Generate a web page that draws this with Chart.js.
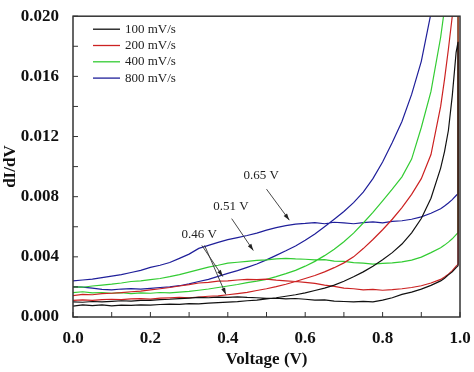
<!DOCTYPE html>
<html>
<head>
<meta charset="utf-8">
<script src="https://cdn.jsdelivr.net/npm/chart.js@4"></script>
<style>
  body { margin: 0; background: #fff; }
  canvas { display: block; }
</style>
</head>
<body>
<canvas id="dIdV" width="474" height="372"></canvas>
<script>
// voltage grid (V)
const voltage = [
  0, 0.025, 0.05, 0.075, 0.1, 0.125, 0.15, 0.175, 0.2, 0.225,
  0.25, 0.275, 0.3, 0.325, 0.35, 0.375, 0.4, 0.425, 0.45, 0.475,
  0.5, 0.525, 0.55, 0.575, 0.6, 0.625, 0.65, 0.675, 0.7, 0.725,
  0.75, 0.775, 0.8, 0.825, 0.85, 0.875, 0.9, 0.925, 0.95, 0.96,
  0.97, 0.98, 0.99, 0.995
];

// 100 mV/s
const blackFwd = [
  0.00072, 0.00080, 0.00076, 0.00080, 0.00074, 0.00079, 0.00077, 0.00081, 0.00079, 0.00083,
  0.00086, 0.00084, 0.00089, 0.00087, 0.00092, 0.00096, 0.00099, 0.00102, 0.00108, 0.00112,
  0.00120, 0.00128, 0.00138, 0.00148, 0.00160, 0.00176, 0.00192, 0.00212, 0.00238, 0.00268,
  0.00300, 0.00338, 0.00380, 0.00428, 0.00485, 0.00560, 0.00655, 0.00790, 0.00990, 0.01100,
  0.01240, 0.01470, 0.01760, 0.01830
];
const blackRev = [
  0.00100, 0.00098, 0.00103, 0.00100, 0.00104, 0.00108, 0.00106, 0.00111, 0.00110, 0.00116,
  0.00118, 0.00122, 0.00126, 0.00130, 0.00128, 0.00132, 0.00131, 0.00134, 0.00130, 0.00128,
  0.00124, 0.00126, 0.00121, 0.00123, 0.00118, 0.00112, 0.00114, 0.00106, 0.00103, 0.00100,
  0.00104, 0.00101, 0.00112, 0.00128, 0.00150, 0.00165, 0.00185, 0.00210, 0.00240, 0.00258,
  0.00280, 0.00300, 0.00328, 0.00340
];

// 200 mV/s
const redFwd = [
  0.00110, 0.00114, 0.00110, 0.00116, 0.00118, 0.00115, 0.00120, 0.00122, 0.00119, 0.00125,
  0.00127, 0.00130, 0.00128, 0.00133, 0.00138, 0.00141, 0.00148, 0.00156, 0.00164, 0.00176,
  0.00188, 0.00202, 0.00218, 0.00236, 0.00256, 0.00276, 0.00300, 0.00328, 0.00360, 0.00400,
  0.00455, 0.00515, 0.00580, 0.00650, 0.00728, 0.00815, 0.00920, 0.01080, 0.01400, 0.01580,
  0.01780, 0.02000, 0.02400, 0.02600
];
const redRev = [
  0.00142, 0.00150, 0.00148, 0.00155, 0.00158, 0.00162, 0.00168, 0.00172, 0.00180, 0.00188,
  0.00196, 0.00206, 0.00215, 0.00226, 0.00230, 0.00238, 0.00240, 0.00246, 0.00250, 0.00248,
  0.00252, 0.00245, 0.00240, 0.00236, 0.00230, 0.00224, 0.00212, 0.00204, 0.00192, 0.00188,
  0.00180, 0.00184, 0.00178, 0.00182, 0.00188, 0.00196, 0.00208, 0.00226, 0.00250, 0.00266,
  0.00285, 0.00308, 0.00338, 0.00350
];

// 400 mV/s
const greenFwd = [
  0.00162, 0.00168, 0.00160, 0.00163, 0.00158, 0.00162, 0.00155, 0.00160, 0.00158, 0.00163,
  0.00160, 0.00166, 0.00170, 0.00178, 0.00186, 0.00196, 0.00206, 0.00216, 0.00228, 0.00238,
  0.00250, 0.00268, 0.00288, 0.00310, 0.00338, 0.00370, 0.00408, 0.00450, 0.00500, 0.00558,
  0.00625, 0.00695, 0.00772, 0.00850, 0.00932, 0.01050, 0.01260, 0.01500, 0.01860, 0.02050,
  0.02300, 0.02600, 0.02900, 0.03000
];
const greenRev = [
  0.00200, 0.00198, 0.00206, 0.00212, 0.00218, 0.00226, 0.00236, 0.00240, 0.00248, 0.00256,
  0.00268, 0.00282, 0.00298, 0.00315, 0.00332, 0.00344, 0.00358, 0.00364, 0.00370, 0.00376,
  0.00380, 0.00386, 0.00390, 0.00386, 0.00384, 0.00380, 0.00382, 0.00372, 0.00370, 0.00362,
  0.00358, 0.00352, 0.00356, 0.00360, 0.00366, 0.00378, 0.00398, 0.00428, 0.00460, 0.00478,
  0.00498, 0.00520, 0.00548, 0.00560
];

// 800 mV/s
const blueFwd = [
  0.00200, 0.00198, 0.00192, 0.00184, 0.00180, 0.00186, 0.00188, 0.00185, 0.00190, 0.00196,
  0.00200, 0.00208, 0.00220, 0.00236, 0.00250, 0.00270, 0.00290, 0.00308, 0.00330, 0.00352,
  0.00380, 0.00410, 0.00440, 0.00472, 0.00510, 0.00552, 0.00600, 0.00650, 0.00702, 0.00760,
  0.00830, 0.00920, 0.01030, 0.01160, 0.01300, 0.01480, 0.01700, 0.02020, 0.02400, 0.02600,
  0.02800, 0.03000, 0.03200, 0.03300
];
const blueRev = [
  0.00240, 0.00246, 0.00252, 0.00262, 0.00272, 0.00282, 0.00296, 0.00310, 0.00330, 0.00344,
  0.00362, 0.00390, 0.00418, 0.00456, 0.00476, 0.00496, 0.00514, 0.00528, 0.00542, 0.00558,
  0.00578, 0.00594, 0.00608, 0.00618, 0.00622, 0.00628, 0.00620, 0.00630, 0.00626, 0.00620,
  0.00628, 0.00632, 0.00626, 0.00636, 0.00640, 0.00650, 0.00666, 0.00690, 0.00720, 0.00738,
  0.00758, 0.00780, 0.00808, 0.00820
];

const seriesLabels = ["100 mV/s", "200 mV/s", "400 mV/s", "800 mV/s"];
const seriesColors = ["#111111", "#cc2222", "#33cc33", "#1f1f9a"];
const xTicks = [0, 0.2, 0.4, 0.6, 0.8, 1.0];
const yTicks = [0, 0.004, 0.008, 0.012, 0.016, 0.02];

// arrow notes (data coordinates)
const notes = [
  { text: "0.65 V", at: [0.486, 0.0094], arrows: [[[0.500, 0.0085], [0.559, 0.00644]]] },
  { text: "0.51 V", at: [0.408, 0.00737], arrows: [[[0.410, 0.00654], [0.466, 0.00442]]] },
  { text: "0.46 V", at: [0.326, 0.00546], arrows: [
      [[0.333, 0.00476], [0.387, 0.00269]],
      [[0.340, 0.00476], [0.395, 0.00150]]
    ] }
];

// forward sweep, jump at the vertex, then back to 0 V
function loop(fwd, rev) {
  const pts = voltage.map((v, i) => ({ x: v, y: fwd[i] }));
  for (let i = voltage.length - 1; i >= 0; i--) pts.push({ x: voltage[i], y: rev[i] });
  return pts;
}

const loops = [
  loop(blackFwd, blackRev),
  loop(redFwd, redRev),
  loop(greenFwd, greenRev),
  loop(blueFwd, blueRev)
];

const serif = "'Liberation Serif', 'Times New Roman', serif";

// frame, inward ticks, legend, arrows
const decorations = {
  id: "decorations",
  afterDatasetsDraw(chart) {
    const { ctx, chartArea: a, scales: { x, y } } = chart;
    ctx.save();
    ctx.strokeStyle = "#333";
    ctx.lineWidth = 1;
    ctx.beginPath();
    for (let k = 0; k <= 10; k++) {
      const px = x.getPixelForValue(k / 10);
      ctx.moveTo(px, a.bottom);
      ctx.lineTo(px, a.bottom - 5);
    }
    for (let k = 0; k <= 10; k++) {
      const py = y.getPixelForValue(k * 0.002);
      ctx.moveTo(a.left, py);
      ctx.lineTo(a.left + 5, py);
    }
    ctx.stroke();
    ctx.lineWidth = 1.5;
    ctx.strokeRect(a.left, a.top, a.right - a.left, a.bottom - a.top);

    // legend
    ctx.font = "13px " + serif;
    ctx.textBaseline = "middle";
    ctx.fillStyle = "#222";
    chart.data.datasets.forEach((ds, i) => {
      const ly = a.top + 13 + i * 16.3;
      ctx.strokeStyle = ds.borderColor;
      ctx.lineWidth = 1.3;
      ctx.beginPath();
      ctx.moveTo(a.left + 20, ly);
      ctx.lineTo(a.left + 47, ly);
      ctx.stroke();
      ctx.fillText(ds.label, a.left + 52, ly);
    });

    // notes with arrows
    ctx.textAlign = "center";
    ctx.strokeStyle = "#333";
    ctx.fillStyle = "#222";
    ctx.lineWidth = 0.9;
    notes.forEach(n => {
      ctx.fillText(n.text, x.getPixelForValue(n.at[0]), y.getPixelForValue(n.at[1]));
      n.arrows.forEach(([p0, p1]) => {
        const x0 = x.getPixelForValue(p0[0]), y0 = y.getPixelForValue(p0[1]);
        const x1 = x.getPixelForValue(p1[0]), y1 = y.getPixelForValue(p1[1]);
        ctx.beginPath();
        ctx.moveTo(x0, y0);
        ctx.lineTo(x1, y1);
        ctx.stroke();
        const ang = Math.atan2(y1 - y0, x1 - x0);
        ctx.beginPath();
        ctx.moveTo(x1, y1);
        ctx.lineTo(x1 - 7 * Math.cos(ang - 0.3), y1 - 7 * Math.sin(ang - 0.3));
        ctx.lineTo(x1 - 7 * Math.cos(ang + 0.3), y1 - 7 * Math.sin(ang + 0.3));
        ctx.closePath();
        ctx.fill();
      });
    });
    ctx.restore();
  }
};

new Chart(document.getElementById("dIdV"), {
  type: "line",
  data: {
    datasets: loops.map((pts, i) => ({
      label: seriesLabels[i],
      data: pts,
      borderColor: seriesColors[i],
      borderWidth: 1.2,
      pointRadius: 0,
      tension: 0,
      fill: false
    }))
  },
  options: {
    responsive: false,
    animation: false,
    devicePixelRatio: 1,
    layout: { padding: { top: 11, right: 14, left: 0, bottom: 0 } },
    plugins: { legend: { display: false }, tooltip: { enabled: false } },
    scales: {
      x: {
        type: "linear",
        min: 0,
        max: 1,
        afterFit: s => { s.height = 55; },
        afterBuildTicks: s => { s.ticks = xTicks.map(v => ({ value: v })); },
        ticks: {
          callback: v => v.toFixed(1),
          font: { family: serif, size: 17, weight: "bold" },
          color: "#111",
          padding: 3,
          maxRotation: 0
        },
        grid: { display: false },
        border: { display: false },
        title: {
          display: true,
          text: "Voltage (V)",
          font: { family: serif, size: 17, weight: "bold" },
          color: "#111",
          padding: { top: 0, bottom: 2 }
        }
      },
      y: {
        min: 0,
        max: 0.02,
        afterFit: s => { s.width = 73; },
        afterBuildTicks: s => { s.ticks = yTicks.map(v => ({ value: v })); },
        ticks: {
          callback: v => v.toFixed(3),
          font: { family: serif, size: 17, weight: "bold" },
          color: "#111",
          padding: 6
        },
        grid: { display: false },
        border: { display: false },
        title: {
          display: true,
          text: "dI/dV",
          font: { family: serif, size: 17, weight: "bold" },
          color: "#111",
          padding: { top: 0, bottom: 0 }
        }
      }
    }
  },
  plugins: [decorations]
});
</script>
</body>
</html>
